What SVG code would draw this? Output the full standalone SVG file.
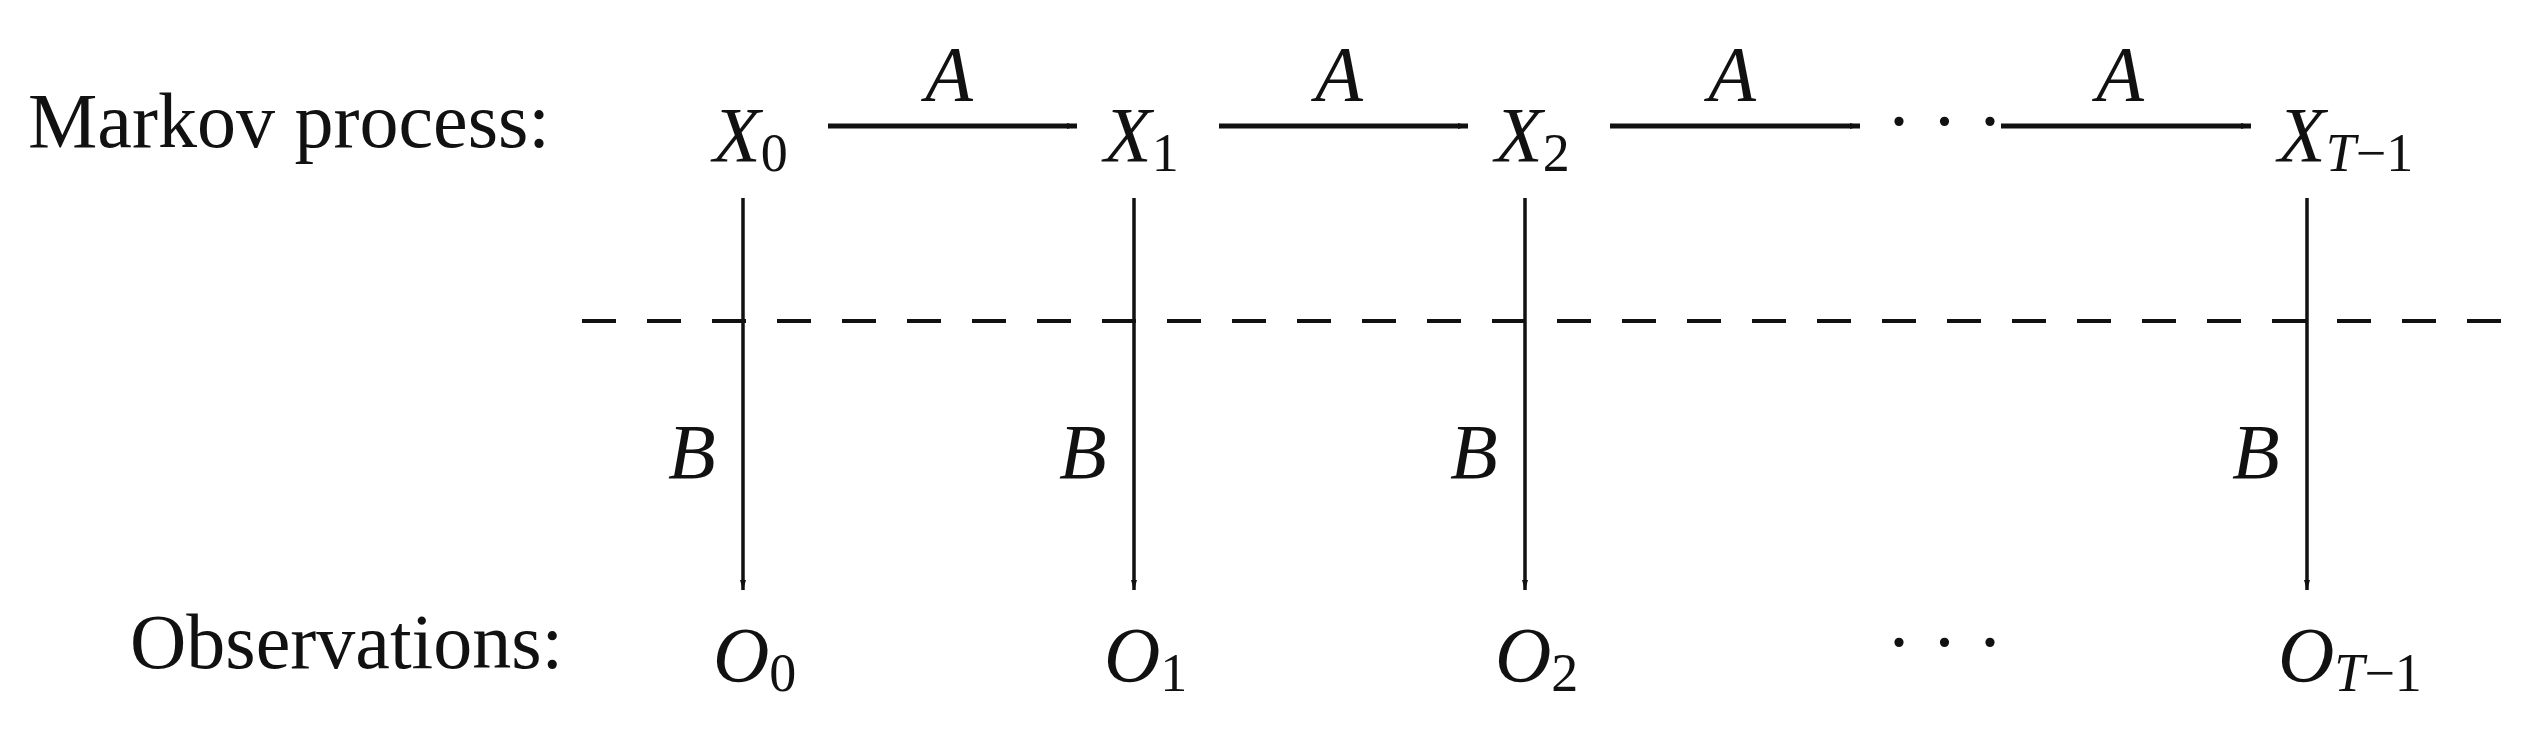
<svg xmlns="http://www.w3.org/2000/svg" width="2537" height="731" viewBox="0 0 2537 731">
<style>
text{font-family:"Liberation Serif","DejaVu Serif",serif;fill:#111}
.lab{font-size:78px}
.m{font-size:78px;font-style:italic}
.s{font-size:54px}
.si{font-size:54px;font-style:italic}
.h{stroke:#111;stroke-width:5;fill:none}
.v{stroke:#111;stroke-width:3.5;fill:none}
</style>
<defs>
<marker id="ah" viewBox="0 0 10 6" refX="10" refY="3" markerWidth="10" markerHeight="6" markerUnits="userSpaceOnUse" orient="auto"><path d="M0,0 L10,3 L0,6 z" fill="#111"/></marker>
</defs>
<g id="labels">
<text class="lab" x="28" y="147">Markov process:</text>
<text class="lab" x="130" y="668">Observations:</text>
</g>
<g id="X0"><text x="713" y="161"><tspan class="m">X</tspan><tspan class="s" dy="10">0</tspan></text></g>
<g id="X1"><text x="1104" y="161"><tspan class="m">X</tspan><tspan class="s" dy="10">1</tspan></text></g>
<g id="X2"><text x="1495" y="161"><tspan class="m">X</tspan><tspan class="s" dy="10">2</tspan></text></g>
<g id="dots1"><text class="lab" x="1886" y="147">· · ·</text></g>
<g id="XT"><text x="2278" y="161"><tspan class="m">X</tspan><tspan class="si" dy="10">T</tspan><tspan class="s">−1</tspan></text></g>
<g id="O0"><text x="713" y="681"><tspan class="m">O</tspan><tspan class="s" dy="10">0</tspan></text></g>
<g id="O1"><text x="1104" y="681"><tspan class="m">O</tspan><tspan class="s" dy="10">1</tspan></text></g>
<g id="O2"><text x="1495" y="681"><tspan class="m">O</tspan><tspan class="s" dy="10">2</tspan></text></g>
<g id="dots2"><text class="lab" x="1886" y="668">· · ·</text></g>
<g id="OT"><text x="2278" y="681"><tspan class="m">O</tspan><tspan class="si" dy="10">T</tspan><tspan class="s">−1</tspan></text></g>
<g id="connectors">
<line class="h" x1="828" y1="126" x2="1077" y2="126" marker-end="url(#ah)"/>
<line class="h" x1="1219" y1="126" x2="1468" y2="126" marker-end="url(#ah)"/>
<line class="h" x1="1610" y1="126" x2="1860" y2="126" marker-end="url(#ah)"/>
<line class="h" x1="2001" y1="126" x2="2251" y2="126" marker-end="url(#ah)"/>
<line class="v" x1="743" y1="198" x2="743" y2="590" marker-end="url(#ah)"/>
<line class="v" x1="1134" y1="198" x2="1134" y2="590" marker-end="url(#ah)"/>
<line class="v" x1="1525" y1="198" x2="1525" y2="590" marker-end="url(#ah)"/>
<line class="v" x1="2307" y1="198" x2="2307" y2="590" marker-end="url(#ah)"/>
<line x1="582" y1="321" x2="2505" y2="321" stroke="#111" stroke-width="4" stroke-dasharray="34 31"/>
</g>
<g id="edgelabels">
<text class="m" x="949" y="100" text-anchor="middle">A</text>
<text class="m" x="1339" y="100" text-anchor="middle">A</text>
<text class="m" x="1732" y="100" text-anchor="middle">A</text>
<text class="m" x="2120" y="100" text-anchor="middle">A</text>
<text class="m" x="668" y="478">B</text>
<text class="m" x="1059" y="478">B</text>
<text class="m" x="1450" y="478">B</text>
<text class="m" x="2232" y="478">B</text>
</g>
</svg>
